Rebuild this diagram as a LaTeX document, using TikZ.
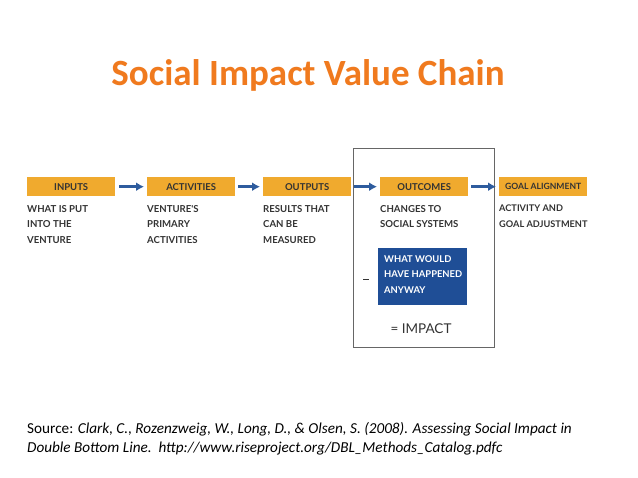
\documentclass[tikz,border=0pt]{standalone}
\usepackage{fontspec}
\setmainfont{Carlito}
\newfontfamily\lab{Lato}
\usetikzlibrary{arrows.meta}
\definecolor{org}{HTML}{F0AA2E}
\definecolor{ttl}{HTML}{F07A1E}
\definecolor{bl}{HTML}{1F4E96}
\definecolor{arr}{HTML}{2E5C9E}
\begin{document}
\begin{tikzpicture}[x=1pt,y=-1pt,
  hbox/.style={fill=org,minimum width=88pt,minimum height=19pt,inner sep=0pt,font=\lab\bfseries\fontsize{9.5}{10}\selectfont,text=black!80},
  desc/.style={anchor=north west,align=left,inner sep=0pt,font=\lab\bfseries\fontsize{9.6}{15.5}\selectfont,text=black!80},
  flow/.style={-{Latex[length=8pt,width=9pt]},line width=3.5pt,arr}]
\useasboundingbox (0,0) rectangle (638,478);
\fill[white] (0,0) rectangle (638,478);
\node[font=\bfseries\fontsize{37}{40}\selectfont,text=ttl] (title) at (308,75) {Social Impact Value Chain};
\draw[black!60,line width=0.8pt] (353,148) rectangle (494,347);
\node[hbox,anchor=north west] (in) at (27,177) {INPUTS};
\node[hbox,anchor=north west] (ac) at (147,177) {ACTIVITIES};
\node[hbox,anchor=north west] (ou) at (263,177) {OUTPUTS};
\node[hbox,anchor=north west] (oc) at (380,177) {OUTCOMES};
\node[hbox,anchor=north west,font=\lab\bfseries\fontsize{8.6}{10}\selectfont] (ga) at (499,177) {GOAL ALIGNMENT};
\draw[flow] ([xshift=4pt]in.east) -- ([xshift=-3pt]ac.west);
\draw[flow] ([xshift=3pt]ac.east) -- ([xshift=-3pt]ou.west);
\draw[flow] ([xshift=3pt]ou.east) -- ([xshift=-3pt]oc.west);
\draw[flow] ([xshift=3pt]oc.east) -- ([xshift=-3pt]ga.west);
\node[desc] (d1) at (27,205) {WHAT IS PUT\\INTO THE\\VENTURE};
\node[desc] (d2) at (147,205) {VENTURE'S\\PRIMARY\\ACTIVITIES};
\node[desc] (d3) at (263,205) {RESULTS THAT\\CAN BE\\MEASURED};
\node[desc] (d4) at (380,205) {CHANGES TO\\SOCIAL SYSTEMS};
\node[desc,font=\lab\bfseries\fontsize{9.2}{15.5}\selectfont] (d5) at (499,205) {ACTIVITY AND\\GOAL ADJUSTMENT};
\fill[bl] (378,248) rectangle (467,305);
\node[desc,text=white,font=\lab\bfseries\fontsize{9.4}{15.5}\selectfont] (bx) at (384,255) {WHAT WOULD\\HAVE HAPPENED\\ANYWAY};
\draw[black!80,line width=1pt] (363,280) coordinate (m1) -- (369,280) coordinate (m2);
\node[font=\lab\fontsize{13.5}{15}\selectfont,text=black!80] (imp) at (421,329) {= IMPACT};
\node[anchor=west,align=left,inner sep=0pt,font=\fontsize{15.2}{19.5}\selectfont] (src) at (27,439)
 {Source: \textit{Clark, C., Rozenzweig, W., Long, D., \& Olsen, S. (2008). Assessing Social Impact in}\\
  \textit{Double Bottom Line.\ \ http://www.riseproject.org/DBL\_Methods\_Catalog.pdfc}};
\end{tikzpicture}
\end{document}
